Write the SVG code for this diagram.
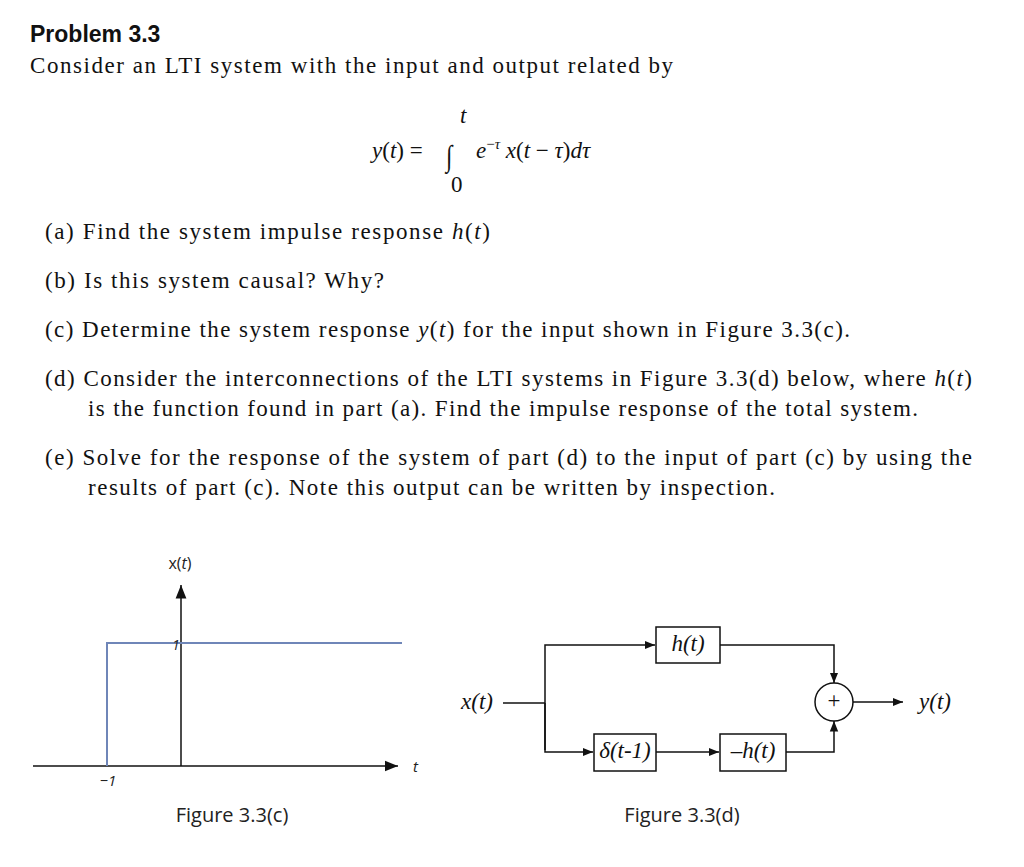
<svg xmlns="http://www.w3.org/2000/svg" width="1024" height="867" viewBox="0 0 1024 867">
<style>
.t{font-family:"Liberation Serif",serif;font-size:23px;fill:#111}
.i{font-style:italic}
.s{font-family:"Open Sans","Liberation Sans",sans-serif;fill:#222}
.ln{stroke:#111;stroke-width:1.5;fill:none}
.bx{stroke:#111;stroke-width:1.5;fill:#fff}
</style>
<defs>
<marker id="a" viewBox="0 0 10 10" refX="10" refY="5" markerWidth="7" markerHeight="7" orient="auto"><path d="M0,1 L10,5 L0,9z" fill="#111"/></marker>
<marker id="b" viewBox="0 0 10 10" refX="10" refY="5" markerWidth="9" markerHeight="9" orient="auto"><path d="M0,1 L10,5 L0,9z" fill="#111"/></marker>
</defs>
<rect width="1024" height="867" fill="#fff"/>
<text x="30" y="42" font-family="Liberation Sans,sans-serif" font-weight="bold" font-size="23" fill="#111">Problem 3.3</text>
<text class="t" x="30" y="73" textLength="643" lengthAdjust="spacing">Consider an LTI system with the input and output related by</text>
<text class="t" x="372" y="158" font-size="24"><tspan class="i">y</tspan>(<tspan class="i">t</tspan>) =</text>
<text class="t" x="446" y="166" font-size="44" transform="translate(446 166) scale(1 1.3) translate(-446 -166)">∫</text>
<text class="t i" x="460" y="123" font-size="15">t</text>
<text class="t" x="451" y="192" font-size="15">0</text>
<text class="t" x="476" y="158" font-size="24"><tspan class="i">e</tspan><tspan font-size="15" dy="-9">−<tspan class="i">τ</tspan></tspan><tspan dy="9" class="i"> x</tspan>(<tspan class="i">t</tspan> − <tspan class="i">τ</tspan>)<tspan class="i">dτ</tspan></text>
<text class="t" x="45" y="239" textLength="445" lengthAdjust="spacing">(a)  Find the system impulse response <tspan class="i">h</tspan>(<tspan class="i">t</tspan>)</text>
<text class="t" x="45" y="288" textLength="339" lengthAdjust="spacing">(b)  Is this system causal? Why?</text>
<text class="t" x="45" y="337" textLength="805" lengthAdjust="spacing">(c)  Determine the system response <tspan class="i">y</tspan>(<tspan class="i">t</tspan>) for the input shown in Figure 3.3(c).</text>
<text class="t" x="45" y="386" textLength="927" lengthAdjust="spacing">(d)  Consider the interconnections of the LTI systems in Figure 3.3(d) below, where <tspan class="i">h</tspan>(<tspan class="i">t</tspan>)</text>
<text class="t" x="88" y="416" textLength="830" lengthAdjust="spacing">is the function found in part (a). Find the impulse response of the total system.</text>
<text class="t" x="45" y="465" textLength="927" lengthAdjust="spacing">(e)  Solve for the response of the system of part (d) to the input of part (c) by using the</text>
<text class="t" x="88" y="495" textLength="687" lengthAdjust="spacing">results of part (c). Note this output can be written by inspection.</text>
<g id="fig-c">
<line class="ln" x1="33" y1="766" x2="398" y2="766" marker-end="url(#b)"/>
<line class="ln" x1="181" y1="766" x2="181" y2="585" marker-end="url(#b)"/>
<polyline points="107,766 107,643 402,643" fill="none" stroke="#6f86b8" stroke-width="2"/>
<text class="s" x="413" y="772" font-size="15" font-style="italic" fill="#666">t</text>
<text class="s" x="180" y="569" font-size="16" text-anchor="middle" fill="#555">x(<tspan font-style="italic">t</tspan>)</text>
<text class="s" x="172" y="650" font-size="14" font-style="italic" fill="#777">1</text>
<text class="s" x="108" y="786" font-size="15" font-style="italic" fill="#777" text-anchor="middle">−1</text>
<text class="s" x="232" y="822" font-size="20" text-anchor="middle">Figure 3.3(c)</text>
</g>
<g id="connectors">
<polyline class="ln" points="503,703 545,703"/>
<polyline class="ln" points="545,750 545,645 655,645" marker-end="url(#a)"/>
<polyline class="ln" points="545,703 545,752 593,752" marker-end="url(#a)"/>
<polyline class="ln" points="656,752 719,752" marker-end="url(#a)"/>
<polyline class="ln" points="720,645 834,645 834,683" marker-end="url(#a)"/>
<polyline class="ln" points="786,752 834,752 834,721" marker-end="url(#a)"/>
<polyline class="ln" points="852,702 903,702" marker-end="url(#a)"/>
</g>
<g id="x-in"><text class="t i" x="477" y="709" text-anchor="middle" font-size="22">x(t)</text></g>
<g id="h"><rect class="bx" x="656" y="627" width="64" height="36"/><text class="t i" x="688" y="651" text-anchor="middle" font-size="16">h(t)</text></g>
<g id="delay"><rect class="bx" x="594" y="734" width="62" height="37"/><text class="t i" x="625" y="758" text-anchor="middle" font-size="16">δ(t-1)</text></g>
<g id="neg-h"><rect class="bx" x="720" y="734" width="66" height="37"/><text class="t i" x="753" y="758" text-anchor="middle" font-size="16">–h(t)</text></g>
<g id="sum"><circle class="bx" cx="834" cy="702" r="19"/><text class="t" x="834" y="708" text-anchor="middle" font-size="16">+</text></g>
<g id="y-out"><text class="t i" x="935" y="709" text-anchor="middle" font-size="22">y(t)</text></g>
<text class="s" x="682" y="822" font-size="20" text-anchor="middle">Figure 3.3(d)</text>
</svg>
